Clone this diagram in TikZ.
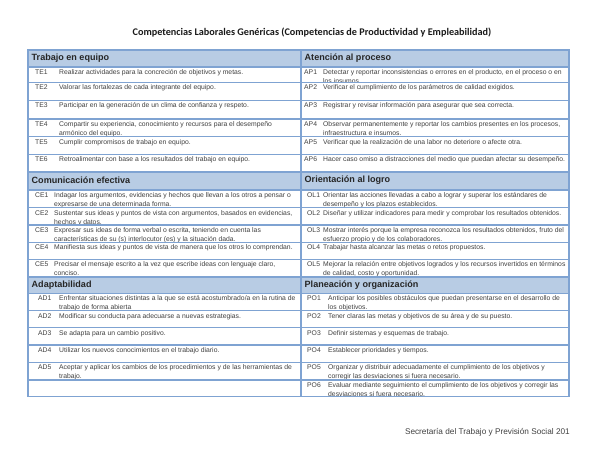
\documentclass[tikz,border=0pt]{standalone}
\usepackage{fontspec}
\setmainfont{Liberation Sans}
\newfontfamily\titlefont{Carlito}
\definecolor{gridblue}{HTML}{7FA3D2}
\definecolor{headfill}{HTML}{B8CCE4}
\definecolor{bodytext}{HTML}{404040}
\tikzset{
  x=1pt,y=-1pt,
  cellbox/.style={draw=gridblue,line width=1.1pt,fill=white},
  headbox/.style={draw=gridblue,line width=1.1pt,fill=headfill},
  headtext/.style={anchor=west,inner sep=0pt,font=\fontsize{9.05}{10}\selectfont\bfseries,text=black!85},
  bodycell/.style={anchor=north west,inner sep=0pt,align=left,font=\fontsize{6.8}{9.2}\selectfont,text=bodytext},
}
% #1 name, #2 x0, #3 x1, #4 y0, #5 y1, #6 code x, #7 code, #8 text x, #9 text
\newcommand{\rowcell}[9]{%
  \fill[white] (#2,#4) rectangle (#3,#5);
  \draw[cellbox] (#2,#4) rectangle (#3,#5);
  \node[bodycell] (c#1) at (#6,#4+0.8) {\strut #7};
  \node[bodycell] (t#1) at (#8,#4+0.8) {\strut #9};
}
\newcommand{\headcell}[6]{%
  \draw[headbox] (#2,#4) rectangle (#3,#5);
  \node[headtext] (#1) at (#2+3.5,#4/2+#5/2-0.4) {#6};
}
\begin{document}
\begin{tikzpicture}
\useasboundingbox (0,0) rectangle (600,464);
\node[anchor=center,inner sep=0pt,font=\titlefont\fontsize{10.2}{12}\selectfont\bfseries,text=black!90] (title) at (312,33) {Competencias Laborales Genéricas (Competencias de Productividad y Empleabilidad)};
% left column
\def\La{28}\def\Lb{301}\def\Ra{301}\def\Rb{569}
\headcell{hTE}{\La}{\Lb}{50}{67}{Trabajo en equipo}
\rowcell{TEa}{\La}{\Lb}{67}{82.3}{35}{TE1}{59}{Realizar actividades para la concreción de objetivos y metas.}
\rowcell{TEb}{\La}{\Lb}{82.3}{100.3}{35}{TE2}{59}{Valorar las fortalezas de cada integrante del equipo.}
\rowcell{TEc}{\La}{\Lb}{100.3}{119}{35}{TE3}{59}{Participar en la generación de un clima de confianza y respeto.}
\rowcell{TEd}{\La}{\Lb}{119}{136.7}{35}{TE4}{59}{Compartir su experiencia, conocimiento y recursos para el desempeño\\armónico del equipo.}
\rowcell{TEe}{\La}{\Lb}{136.7}{154.3}{35}{TE5}{59}{Cumplir compromisos de trabajo en equipo.}
\rowcell{TEf}{\La}{\Lb}{154.3}{172}{35}{TE6}{59}{Retroalimentar con base a los resultados del trabajo en equipo.}
\headcell{hCE}{\La}{\Lb}{172}{190}{Comunicación efectiva}
\rowcell{CEa}{\La}{\Lb}{190}{207.7}{35}{CE1}{54}{Indagar los argumentos, evidencias y hechos que llevan a los otros a pensar o\\expresarse de una determinada forma.}
\rowcell{CEb}{\La}{\Lb}{207.7}{225}{35}{CE2}{54}{Sustentar sus ideas y puntos de vista con argumentos, basados en evidencias,\\hechos y datos.}
\rowcell{CEc}{\La}{\Lb}{225}{242.3}{35}{CE3}{54}{Expresar sus ideas de forma verbal o escrita, teniendo en cuenta las\\características de su (s) interlocutor (es) y la situación dada.}
\rowcell{CEd}{\La}{\Lb}{242.3}{259.3}{35}{CE4}{54}{Manifiesta sus ideas y puntos de vista de manera que los otros lo comprendan.}
\rowcell{CEe}{\La}{\Lb}{259.3}{277}{35}{CE5}{54}{Precisar el mensaje escrito a la vez que escribe ideas con lenguaje claro,\\conciso.}
\headcell{hAD}{\La}{\Lb}{277}{293.3}{Adaptabilidad}
\rowcell{ADa}{\La}{\Lb}{293.3}{310.7}{38}{AD1}{59}{Enfrentar situaciones distintas a la que se está acostumbrado/a en la rutina de\\trabajo de forma abierta}
\rowcell{ADb}{\La}{\Lb}{310.7}{327.7}{38}{AD2}{59}{Modificar su conducta para adecuarse a nuevas estrategias.}
\rowcell{ADc}{\La}{\Lb}{327.7}{345}{38}{AD3}{59}{Se adapta para un cambio positivo.}
\rowcell{ADd}{\La}{\Lb}{345}{362.3}{38}{AD4}{59}{Utilizar los nuevos conocimientos en el trabajo diario.}
\rowcell{ADe}{\La}{\Lb}{362.3}{380}{38}{AD5}{59}{Aceptar y aplicar los cambios de los procedimientos y de las herramientas de\\trabajo.}
\draw[cellbox] (\La,380) rectangle (\Lb,396.7);
% right column
\headcell{hAP}{\Ra}{\Rb}{50}{67}{Atención al proceso}
\rowcell{APa}{\Ra}{\Rb}{67}{82.3}{304}{AP1}{323}{Detectar y reportar inconsistencias o errores en el producto, en el proceso o en\\los insumos.}
\rowcell{APb}{\Ra}{\Rb}{82.3}{100.3}{304}{AP2}{323}{Verificar el cumplimiento de los parámetros de calidad exigidos.}
\rowcell{APc}{\Ra}{\Rb}{100.3}{119}{304}{AP3}{323}{Registrar y revisar información para asegurar que sea correcta.}
\rowcell{APd}{\Ra}{\Rb}{119}{136.7}{304}{AP4}{323}{Observar permanentemente y reportar los cambios presentes en los procesos,\\infraestructura e insumos.}
\rowcell{APe}{\Ra}{\Rb}{136.7}{154.3}{304}{AP5}{323}{Verificar que la realización de una labor no deteriore o afecte otra.}
\rowcell{APf}{\Ra}{\Rb}{154.3}{172}{304}{AP6}{323}{Hacer caso omiso a distracciones del medio que puedan afectar su desempeño.}
\headcell{hOL}{\Ra}{\Rb}{172}{190}{Orientación al logro}
\rowcell{OLa}{\Ra}{\Rb}{190}{207.7}{307}{OL1}{323}{Orientar las acciones llevadas a cabo a lograr y superar los estándares de\\desempeño y los plazos establecidos.}
\rowcell{OLb}{\Ra}{\Rb}{207.7}{225}{307}{OL2}{323}{Diseñar y utilizar indicadores para medir y comprobar los resultados obtenidos.}
\rowcell{OLc}{\Ra}{\Rb}{225}{242.3}{307}{OL3}{323}{Mostrar interés porque la empresa reconozca los resultados obtenidos, fruto del\\esfuerzo propio y de los colaboradores.}
\rowcell{OLd}{\Ra}{\Rb}{242.3}{259.3}{307}{OL4}{323}{Trabajar hasta alcanzar las metas o retos propuestos.}
\rowcell{OLe}{\Ra}{\Rb}{259.3}{277}{307}{OL5}{323}{Mejorar la relación entre objetivos logrados y los recursos invertidos en términos\\de calidad, costo y oportunidad.}
\headcell{hPO}{\Ra}{\Rb}{277}{293.3}{Planeación y organización}
\rowcell{POa}{\Ra}{\Rb}{293.3}{310.7}{307}{PO1}{328}{Anticipar los posibles obstáculos que puedan presentarse en el desarrollo de\\los objetivos.}
\rowcell{POb}{\Ra}{\Rb}{310.7}{327.7}{307}{PO2}{328}{Tener claras las metas y objetivos de su área y de su puesto.}
\rowcell{POc}{\Ra}{\Rb}{327.7}{345}{307}{PO3}{328}{Definir sistemas y esquemas de trabajo.}
\rowcell{POd}{\Ra}{\Rb}{345}{362.3}{307}{PO4}{328}{Establecer prioridades y tiempos.}
\rowcell{POe}{\Ra}{\Rb}{362.3}{380}{307}{PO5}{328}{Organizar y distribuir adecuadamente el cumplimiento de los objetivos y\\corregir las desviaciones si fuera necesario.}
\rowcell{POf}{\Ra}{\Rb}{380}{396.7}{307}{PO6}{328}{Evaluar mediante seguimiento el cumplimiento de los objetivos y corregir las\\desviaciones si fuera necesario.}
\node[anchor=east,inner sep=0pt,font=\fontsize{8.25}{10}\selectfont,text=bodytext] (footer) at (570,432.5) {Secretaría del Trabajo y Previsión Social 201};
\end{tikzpicture}
\end{document}
